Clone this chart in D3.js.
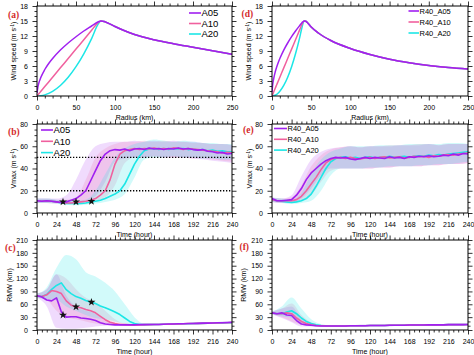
<!DOCTYPE html>
<html><head><meta charset="utf-8">
<script src="https://cdn.jsdelivr.net/npm/d3@7"></script>
<style>body{margin:0;background:#fff}svg{display:block}</style>
</head><body><svg id="c" width="474" height="355"></svg>
<script>
// ---------------- DATA ----------------
const series = ["A05", "A10", "A20"];
const seriesR40 = ["R40_A05", "R40_A10", "R40_A20"];

const radiusTicks = [0, 50, 100, 150, 200, 250];
const windTicks = [0, 3, 6, 9, 12, 15, 18];
const hourTicks = [0, 24, 48, 72, 96, 120, 144, 168, 192, 216, 240];
const vmaxTicks = [0, 20, 40, 60, 80];
const rmwTicks = [0, 30, 60, 90, 120, 150, 180, 210];

// (a) initial wind profiles, RMW = 80 km
const radiusA = [0, 1, 2, 5, 10, 15, 20, 30, 40, 50, 60, 70, 78, 82, 86, 90, 100, 110, 125, 150, 175, 200, 225, 250];
const windA_A05 = [0.6, 1.7, 2.4, 3.75, 5.3, 6.5, 7.5, 9.2, 10.6, 11.85, 13.0, 14.0, 14.8, 15.0, 14.9, 14.65, 13.9, 13.2, 12.3, 11.25, 10.45, 9.75, 9.05, 8.35];
const windA_A10 = [0, 0.19, 0.38, 0.94, 1.88, 2.81, 3.75, 5.63, 7.5, 9.38, 11.25, 13.13, 14.63, 15.0, 14.9, 14.65, 13.9, 13.2, 12.3, 11.25, 10.45, 9.75, 9.05, 8.35];
const windA_A20 = [0, 0.002, 0.01, 0.06, 0.23, 0.53, 0.94, 2.11, 3.75, 5.86, 8.44, 11.48, 14.26, 15.0, 14.9, 14.65, 13.9, 13.2, 12.3, 11.25, 10.45, 9.75, 9.05, 8.35];

// (d) initial wind profiles, RMW = 40 km
const radiusD = [0, 1, 2, 4, 6, 8, 10, 15, 20, 25, 30, 35, 38, 41, 43, 45, 50, 60, 75, 100, 125, 150, 175, 200, 225, 250];
const windD_A05 = [0.8, 2.4, 3.35, 4.74, 5.8, 6.7, 7.5, 9.19, 10.6, 11.86, 12.99, 14.03, 14.62, 15.0, 14.95, 14.7, 13.8, 12.5, 11.1, 9.5, 8.3, 7.35, 6.65, 6.1, 5.7, 5.4];
const windD_A10 = [0, 0.38, 0.75, 1.5, 2.25, 3.0, 3.75, 5.63, 7.5, 9.38, 11.25, 13.13, 14.25, 15.0, 14.95, 14.7, 13.8, 12.5, 11.1, 9.5, 8.3, 7.35, 6.65, 6.1, 5.7, 5.4];
const windD_A20 = [0, 0.01, 0.04, 0.15, 0.34, 0.6, 0.94, 2.11, 3.75, 5.86, 8.44, 11.48, 13.54, 15.0, 14.95, 14.7, 13.8, 12.5, 11.1, 9.5, 8.3, 7.35, 6.65, 6.1, 5.7, 5.4];

// time axes
const hours6 = [0,6,12,18,24,30,36,42,48,54,60,66,72,78,84,90,96,102,108,114,120,126,132,138,144,150,156,162,168,174,180,186,192,198,204,210,216,222,228,234,240];
const hours12 = [0,12,24,36,48,60,72,84,96,108,120,132,144,156,168,180,192,204,216,228,240];

// (b) Vmax ensemble means (RMW 80)
const vmaxB_A05 = [11,10.5,11,10.5,10,9.5,10,11.5,13,16,20,29,38,47,53,56,57,56.5,57.5,56,57.5,58,57,58.5,57.5,58,57,58,57.5,58.5,57.5,58,57,56.5,57,55.5,55,54,54.5,53,53.5];
const vmaxB_A10 = [11,10.5,11,10.5,10,9.5,9,9,9.5,10,10.5,11.5,13,16,20,30,44,53,56,57,58,57,58,57.5,58.5,57.5,58,57.5,58.5,58,57,58,57.5,57,56.5,56,55.5,55,54,54.5,54];
const vmaxB_A20 = [11,10.5,11,10.5,10,9,8.5,8.5,8.5,8.5,9,10,10.5,11.5,13,15,17,20,26,35,44,51,56,57.5,58,57,58,57,58,57.5,58,57,57.5,56.5,57,56,56.5,55.5,56,55,55];
// (b) ensemble member envelopes (12-hourly)
const vmaxB_A05_lo = [9,9,8.5,8.5,9,11,15,28,46,49,50,50,51,50,50,50,49,48,47,46,45];
const vmaxB_A05_hi = [13,13,13,16,30,48,60,63,64,64,65,64,65,64,65,64,64,63,62,62,61];
const vmaxB_A10_lo = [9,9,8.5,8,8,9,11,14,25,45,50,50,51,50,50,50,49,49,48,47,46];
const vmaxB_A10_hi = [13,13,12,12,14,30,50,58,62,64,64,65,64,65,64,64,63,63,62,62,61];
const vmaxB_A20_lo = [9,9,8.5,7.5,7,7.5,8.5,10,12,17,32,48,50,50,51,50,50,49,49,48,48];
const vmaxB_A20_hi = [13,13,12,11,11,12,20,35,50,58,62,64,66,65,64,65,64,63,63,62,62];
const starsB = [[32, 10], [48, 10], [67, 10.5]];

// (e) Vmax ensemble means (RMW 40)
const vmaxE_A05 = [13,11,11,11.5,12,16,22,30,36,40,44,47,49,50,49.5,50,48.5,48,49,50,49,50,49.5,49,50.5,49.5,50,49,50.5,50,51,50.5,51.5,50.5,51,52,51.5,53,52,53.5,53];
const vmaxE_A10 = [12,11,11,11,11,12,15,20,26,32,39,45,48,49.5,50,49,50,49,48.5,49.5,50,49,50,50.5,49.5,50,50.5,49.5,50,51,50.5,51,50,51.5,51,52,52.5,52,53,53.5,54];
const vmaxE_A20 = [12,11,10.5,10,9.5,10,11,13,17,24,32,40,46,49,50,50.5,49.5,50,49,50,50.5,49.5,50,50,51,50,50.5,51,50,51,51.5,51,52,51.5,52.5,52,53,53.5,54,54.5,55];
const vmaxE_A05_lo = [10,9,9,13,22,34,40,40,40,40,40,41,41,42,42,42,43,43,44,44,45];
const vmaxE_A05_hi = [14,13,16,33,48,55,58,59,60,59,60,60,60,61,61,61,62,61,62,62,62];
const vmaxE_A10_lo = [10,9,9,11,16,28,38,40,40,40,40,41,41,42,42,42,43,43,44,44,45];
const vmaxE_A10_hi = [14,13,14,25,42,52,57,59,60,59,60,60,61,61,61,62,62,61,62,62,62];
const vmaxE_A20_lo = [10,9,8,9,11,20,34,40,40,40,41,41,42,42,42,43,43,44,44,45,46];
const vmaxE_A20_hi = [14,13,12,18,35,48,55,58,60,60,60,61,61,61,62,62,62,62,63,63,62];

// (c) RMW ensemble means (RMW 80)
const rmwC_A05 = [80,77,70,68,75,42,30,31,31,28,27,25,22,17,14,13,12,12,12,12,12,12.5,12.5,13,13,13,13.5,14,14,14.5,14.5,15,15,15.5,16,16,16.5,17,17,17.5,18];
const rmwC_A10 = [80,78,82,92,90,85,68,58,54,52,48,45,40,32,24,18,15,13,12.5,12,12,12,12.5,12.5,13,13,13.5,13.5,14,14,14.5,15,15,15.5,15.5,16,16.5,16.5,17,17,17.5];
const rmwC_A20 = [80,78,83,95,104,110,94,85,78,74,69,65,62,56,52,47,42,36,28,20,15,13,12.5,12.5,13,13,13.5,13.5,14,14,14.5,14.5,15,15,15.5,16,16,16.5,16.5,17,17];
const rmwC_A05_lo = [75,55,5,3,3,5,8,10,10,10,10,11,11,12,12,13,13,14,14,15,15];
const rmwC_A05_hi = [85,95,130,80,55,45,38,22,15,14,14,14,15,15,16,16,17,18,18,19,20];
const rmwC_A10_lo = [75,70,45,30,25,20,15,12,11,10,10,11,11,12,12,13,13,14,14,15,15];
const rmwC_A10_hi = [85,95,130,120,95,75,65,45,25,15,14,14,15,15,16,16,17,18,18,19,20];
const rmwC_A20_lo = [75,72,70,55,45,35,28,25,20,15,11,11,11,12,12,13,13,14,14,15,15];
const rmwC_A20_hi = [85,100,145,175,165,135,125,110,90,60,30,15,15,15,16,16,17,18,18,19,20];
const starsC = [[32, 35], [48, 54], [67, 65]];

// (f) RMW ensemble means (RMW 40)
const rmwF_A05 = [40,38,40,35,34,22,14,12,11,10,9.5,9.5,9.5,9.5,9.5,9.5,10,10,10,10,10.5,10.5,10.5,10.5,11,11,11,11,11.5,11.5,11.5,11.5,12,12,12,12,12.5,12.5,12.5,12.5,13];
const rmwF_A10 = [40,38,38,40,38,28,20,15,12,10.5,10,9.5,9.5,9.5,9.5,9.5,10,10,10,10,10.5,10.5,10.5,10.5,11,11,11,11,11.5,11.5,11.5,11.5,12,12,12,12,12.5,12.5,12.5,12.5,13];
const rmwF_A20 = [40,38,38,42,45,38,28,20,15,12,10.5,10,9.5,9.5,9.5,9.5,10,10,10,10,10.5,10.5,10.5,10.5,11,11,11,11,11.5,11.5,11.5,11.5,12,12,12,12,12.5,12.5,12.5,12.5,13];
const rmwF_A05_lo = [37,28,18,8,8,8,8,8,8,9,9,9,9,10,10,10,10,11,11,11,11];
const rmwF_A05_hi = [43,50,55,25,14,11,11,11,11,12,12,12,12,13,13,13,13,14,14,14,14];
const rmwF_A10_lo = [37,30,20,12,9,8,8,8,8,9,9,9,9,10,10,10,10,11,11,11,11];
const rmwF_A10_hi = [43,50,62,35,18,12,11,11,11,12,12,12,12,13,13,13,13,14,14,14,14];
const rmwF_A20_lo = [37,32,28,16,10,8,8,8,8,9,9,9,9,10,10,10,10,11,11,11,11];
const rmwF_A20_hi = [43,55,76,50,25,14,11,11,11,12,12,12,12,13,13,13,13,14,14,14,14];

// ---------------- DRAWING ----------------
const svg = d3.select('#c');
const col = {A05: '#A020F0', A10: '#F0609E', A20: '#1CE6E6'};
const bandOp = {A05: 0.16, A10: 0.18, A20: 0.2};
const font = '"Liberation Sans", Arial, Helvetica, sans-serif';
let clipId = 0;

function panel(c) {
  const g = svg.append('g');
  const x = d3.scaleLinear().domain(c.xd).range([c.L, c.R]);
  const y = d3.scaleLinear().domain(c.yd).range([c.B, c.T]);
  const id = 'clip' + (clipId++);
  svg.append('clipPath').attr('id', id).append('rect')
    .attr('x', c.L).attr('y', c.T).attr('width', c.R - c.L).attr('height', c.B - c.T);
  const data = g.append('g').attr('clip-path', `url(#${id})`);

  (c.bands || []).forEach(b => {
    const area = d3.area().x((d, i) => x(b.t[i])).y0((d, i) => y(b.lo[i])).y1((d, i) => y(b.hi[i]))
      .curve(d3.curveMonotoneX);
    data.append('path').datum(b.t).attr('d', area).attr('fill', col[b.k]).attr('fill-opacity', bandOp[b.k]);
  });
  (c.hlines || []).forEach(v => {
    data.append('line').attr('x1', c.L).attr('x2', c.R).attr('y1', y(v)).attr('y2', y(v))
      .attr('stroke', '#000').attr('stroke-width', 1.3).attr('stroke-dasharray', '1.3,1.7');
  });
  c.lines.forEach(l => {
    const line = d3.line().x((d, i) => x(l.x[i])).y(d => y(d)).curve(c.curve || d3.curveLinear);
    data.append('path').datum(l.v).attr('d', line).attr('fill', 'none')
      .attr('stroke', col[l.k]).attr('stroke-width', c.lw || 1.6).attr('stroke-linejoin', 'round');
  });
  (c.stars || []).forEach(s => {
    g.append('path').attr('d', d3.symbol(d3.symbolStar).size(20)())
      .attr('transform', `translate(${x(s[0])},${y(s[1])})`).attr('fill', '#111');
  });

  function ax(fn, scale, ticks, size, labels, tr) {
    const a = fn(scale).tickValues(ticks).tickSize(size).tickSizeOuter(0).tickPadding(4.5);
    if (!labels) a.tickFormat('');
    const ag = g.append('g').attr('transform', tr).call(a);
    ag.select('.domain').remove();
    ag.selectAll('line').attr('stroke', '#000').attr('stroke-width', 0.8);
    ag.selectAll('text').attr('font-size', 7).attr('font-family', font).attr('fill', '#000');
  }
  const xMin = d3.range(c.xd[0], c.xd[1] + 0.001, c.xMinor).filter(v => !c.xt.includes(v));
  const yMin = d3.range(c.yd[0], c.yd[1] + 0.001, c.yMinor).filter(v => !c.yt.includes(v));
  ax(d3.axisBottom, x, c.xt, 4.5, true, `translate(0,${c.B})`);
  ax(d3.axisBottom, x, xMin, 2.5, false, `translate(0,${c.B})`);
  ax(d3.axisTop, x, c.xt, 4.5, false, `translate(0,${c.T})`);
  ax(d3.axisTop, x, xMin, 2.5, false, `translate(0,${c.T})`);
  ax(d3.axisLeft, y, c.yt, 4.5, true, `translate(${c.L},0)`);
  ax(d3.axisLeft, y, yMin, 2.5, false, `translate(${c.L},0)`);
  ax(d3.axisRight, y, c.yt, 4.5, false, `translate(${c.R},0)`);
  ax(d3.axisRight, y, yMin, 2.5, false, `translate(${c.R},0)`);

  g.append('rect').attr('x', c.L).attr('y', c.T).attr('width', c.R - c.L).attr('height', c.B - c.T)
    .attr('fill', 'none').attr('stroke', '#000').attr('stroke-width', 1);

  g.append('text').attr('x', (c.L + c.R) / 2).attr('y', c.B + 23.5).attr('text-anchor', 'middle')
    .attr('font-size', 7).attr('font-family', font).text(c.xTitle);
  const yt = g.append('text').attr('transform', `translate(${c.yTitleX},${(c.T + c.B) / 2}) rotate(-90)`)
    .attr('text-anchor', 'middle').attr('dy', '0.35em').attr('font-size', 7).attr('font-family', font);
  yt.append('tspan').text(c.yTitle);
  if (c.ySup) {
    yt.append('tspan').attr('font-size', 4.5).attr('dy', '-0.6em').text('-1');
    yt.append('tspan').attr('dy', '0.35em').text(')');
  }
  g.append('text').attr('x', c.letterX).attr('y', c.letterY).attr('font-size', 9.5)
    .attr('font-family', '"Liberation Serif", "Times New Roman", serif').attr('font-weight', 'bold')
    .attr('fill', '#D42A2A').text(c.letter);
  if (c.legend) {
    const lg = c.legend;
    lg.names.forEach((nm, i) => {
      const yy = lg.y + i * lg.dy;
      g.append('line').attr('x1', lg.x).attr('x2', lg.x + lg.len).attr('y1', yy).attr('y2', yy)
        .attr('stroke', col[series[i]]).attr('stroke-width', 1.6);
      g.append('text').attr('x', lg.x + lg.len + 0.5).attr('y', yy).attr('dy', '0.36em')
        .attr('font-size', lg.fs).attr('font-family', font).attr('fill', '#000').text(nm);
    });
  }
}

const L1 = 37, R1 = 232, L2 = 272, R2 = 468;
const mk = (t, lo, hi, k) => ({t, lo, hi, k});

panel({L: L1, R: R1, T: 6, B: 96, xd: [0, 250], yd: [0, 18], xt: radiusTicks, yt: windTicks, xMinor: 10, yMinor: 1,
  curve: d3.curveMonotoneX, lw: 1.5,
  lines: [{x: radiusA, v: windA_A20, k: 'A20'}, {x: radiusA, v: windA_A10, k: 'A10'}, {x: radiusA, v: windA_A05, k: 'A05'}],
  xTitle: 'Radius (km)', yTitle: 'Wind speed (m s', ySup: true, yTitleX: 14, letter: '(a)', letterX: 8, letterY: 17.5,
  legend: {names: series, x: 189, len: 12, y: 13, dy: 10.5, fs: 9.5}});
panel({L: L2, R: R2, T: 6, B: 96, xd: [0, 250], yd: [0, 18], xt: radiusTicks, yt: windTicks, xMinor: 10, yMinor: 1,
  curve: d3.curveMonotoneX, lw: 1.5,
  lines: [{x: radiusD, v: windD_A20, k: 'A20'}, {x: radiusD, v: windD_A10, k: 'A10'}, {x: radiusD, v: windD_A05, k: 'A05'}],
  xTitle: 'Radius (km)', yTitle: 'Wind speed (m s', ySup: true, yTitleX: 249, letter: '(d)', letterX: 241.5, letterY: 16.5,
  legend: {names: seriesR40, x: 408.5, len: 10.5, y: 11, dy: 11, fs: 7.5}});
panel({L: L1, R: R1, T: 124, B: 213, xd: [0, 240], yd: [0, 80], xt: hourTicks, yt: vmaxTicks, xMinor: 6, yMinor: 5,
  bands: [mk(hours12, vmaxB_A05_lo, vmaxB_A05_hi, 'A05'), mk(hours12, vmaxB_A10_lo, vmaxB_A10_hi, 'A10'), mk(hours12, vmaxB_A20_lo, vmaxB_A20_hi, 'A20')],
  hlines: [50, 20],
  lines: [{x: hours6, v: vmaxB_A20, k: 'A20'}, {x: hours6, v: vmaxB_A10, k: 'A10'}, {x: hours6, v: vmaxB_A05, k: 'A05'}],
  stars: starsB,
  xTitle: 'Time (hour)', yTitle: 'Vmax (m s', ySup: true, yTitleX: 14, letter: '(b)', letterX: 8, letterY: 134.5,
  legend: {names: series, x: 41, len: 12, y: 130, dy: 11.3, fs: 9.5}});
panel({L: L2, R: R2, T: 124, B: 213, xd: [0, 240], yd: [0, 80], xt: hourTicks, yt: vmaxTicks, xMinor: 6, yMinor: 5,
  bands: [mk(hours12, vmaxE_A05_lo, vmaxE_A05_hi, 'A05'), mk(hours12, vmaxE_A10_lo, vmaxE_A10_hi, 'A10'), mk(hours12, vmaxE_A20_lo, vmaxE_A20_hi, 'A20')],
  lines: [{x: hours6, v: vmaxE_A20, k: 'A20'}, {x: hours6, v: vmaxE_A10, k: 'A10'}, {x: hours6, v: vmaxE_A05, k: 'A05'}],
  xTitle: 'Time (hour)', yTitle: 'Vmax (m s', ySup: true, yTitleX: 250, letter: '(e)', letterX: 243, letterY: 133,
  legend: {names: seriesR40, x: 274, len: 13, y: 128.5, dy: 10.8, fs: 7.5}});
panel({L: L1, R: R1, T: 240, B: 330, xd: [0, 240], yd: [0, 210], xt: hourTicks, yt: rmwTicks, xMinor: 6, yMinor: 10,
  bands: [mk(hours12, rmwC_A05_lo, rmwC_A05_hi, 'A05'), mk(hours12, rmwC_A10_lo, rmwC_A10_hi, 'A10'), mk(hours12, rmwC_A20_lo, rmwC_A20_hi, 'A20')],
  lines: [{x: hours6, v: rmwC_A20, k: 'A20'}, {x: hours6, v: rmwC_A10, k: 'A10'}, {x: hours6, v: rmwC_A05, k: 'A05'}],
  stars: starsC,
  xTitle: 'Time (hour)', yTitle: 'RMW (km)', ySup: false, yTitleX: 9.5, letter: '(c)', letterX: 5, letterY: 250.5});
panel({L: L2, R: R2, T: 240, B: 330, xd: [0, 240], yd: [0, 210], xt: hourTicks, yt: rmwTicks, xMinor: 6, yMinor: 10,
  bands: [mk(hours12, rmwF_A05_lo, rmwF_A05_hi, 'A05'), mk(hours12, rmwF_A10_lo, rmwF_A10_hi, 'A10'), mk(hours12, rmwF_A20_lo, rmwF_A20_hi, 'A20')],
  lines: [{x: hours6, v: rmwF_A20, k: 'A20'}, {x: hours6, v: rmwF_A10, k: 'A10'}, {x: hours6, v: rmwF_A05, k: 'A05'}],
  xTitle: 'Time (hour)', yTitle: 'RMW (km)', ySup: false, yTitleX: 244, letter: '(f)', letterX: 239.5, letterY: 250});
</script>
</body></html>
